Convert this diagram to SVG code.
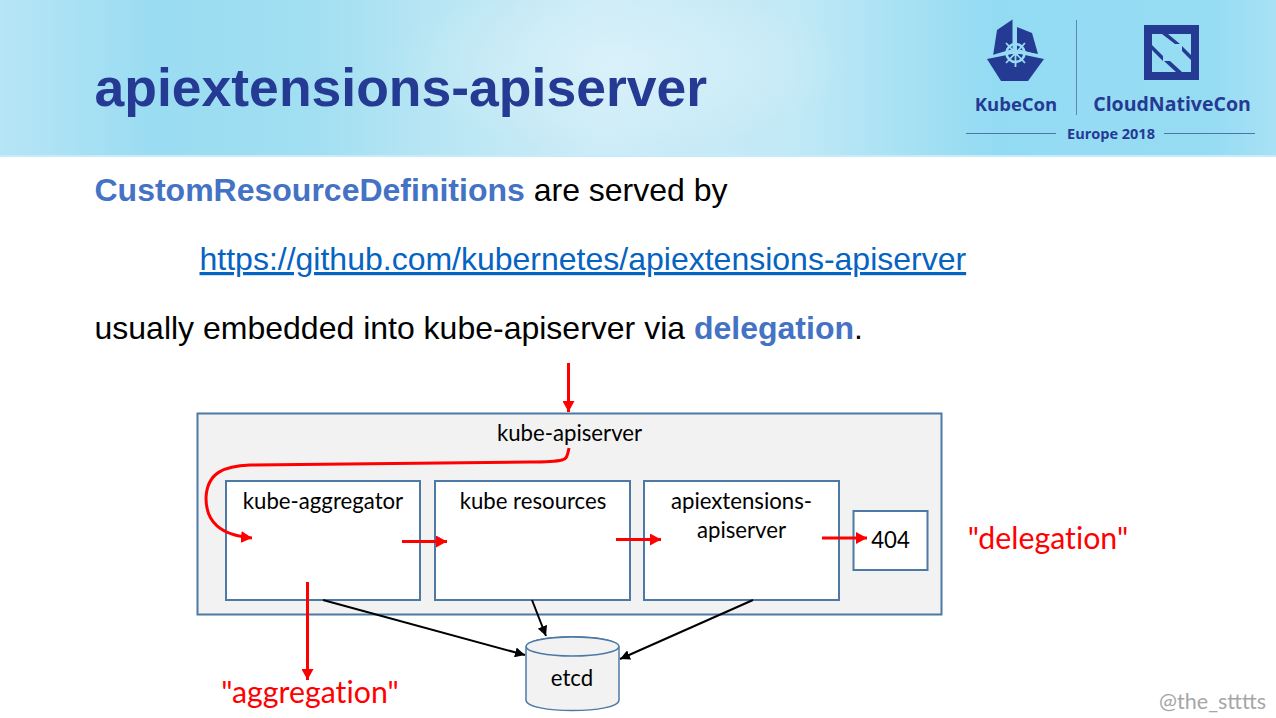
<svg xmlns="http://www.w3.org/2000/svg" width="1276" height="718" viewBox="0 0 1276 718">
<style>
.h{font-family:"Liberation Sans",Arial,sans-serif;font-size:32px;fill:#000}
.c{font-family:Lato,Carlito,sans-serif;font-size:22.200px;fill:#000;text-anchor:middle;font-variant-ligatures:none}
.r{font-family:Lato,Carlito,sans-serif;fill:#f00;text-anchor:middle;font-variant-ligatures:none}
.box{fill:#fff;stroke:#4d79a5;stroke-width:2}
.red{fill:none;stroke:#f00;stroke-width:3}
.blk{fill:none;stroke:#000;stroke-width:2}
.logo{font-family:"Open Sans",sans-serif;font-weight:700;fill:#243a93;text-anchor:middle}
.bl{fill:#4472c4;font-weight:700}
.dk{fill:#243a93}
</style>
<defs>
<linearGradient id="bg" x1="0" y1="0" x2="1" y2="0">
<stop offset="0" stop-color="#b6e5f5"/><stop offset=".04" stop-color="#aee2f4"/><stop offset=".12" stop-color="#9adcf2"/><stop offset=".25" stop-color="#a2dff2"/><stop offset=".33" stop-color="#b6e5f3"/><stop offset=".47" stop-color="#cdecf7"/><stop offset=".62" stop-color="#c2e9f6"/><stop offset=".72" stop-color="#a4e0f3"/><stop offset=".78" stop-color="#93dbf3"/><stop offset=".95" stop-color="#96dcf3"/><stop offset="1" stop-color="#a8e1f5"/>
</linearGradient>
<radialGradient id="glow" cx=".5" cy=".5" r=".5"><stop offset="0" stop-color="#e2f4fb" stop-opacity=".6"/><stop offset="1" stop-color="#e2f4fb" stop-opacity="0"/></radialGradient>
<marker id="ar" markerUnits="userSpaceOnUse" markerWidth="13" markerHeight="12" refX="11" refY="6" orient="auto"><path d="M0 0L11 6L0 12Z" fill="#f00"/></marker>
<marker id="ak" markerUnits="userSpaceOnUse" markerWidth="11" markerHeight="10" refX="10" refY="5" orient="auto"><path d="M0 0L10 5L0 10Z" fill="#000"/></marker>
</defs>
<rect width="1276" height="718" fill="#fff"/>
<g id="banner">
<rect width="1276" height="157" fill="url(#bg)"/>
<ellipse cx="620" cy="65" rx="230" ry="85" fill="url(#glow)"/>
<rect x="0" y="155" width="1276" height="2" fill="#c4ecf9"/>
</g>
<text x="94.500" y="106" font-family="Liberation Sans,Arial,sans-serif" font-weight="700" font-size="53.500" fill="#243a93">apiextensions-apiserver</text>

<g id="logos">
<path class="dk" d="M1012.500 19.500V50L993 56L997 30Z"/>
<path class="dk" d="M1017 27L1032 33L1038 54L1017 50Z"/>
<path class="dk" d="M1012 54L1020 54L1044 59L1028 81H1001L987 59Z"/>
<g fill="none" stroke="#9adcf3">
<circle cx="1015.500" cy="53" r="9" stroke-width="2.600"/>
<path d="M1015.500 39V67M1002 53H1029M1006 43L1025 63M1025 43L1006 63" stroke-width="1.800"/>
<path d="M1012 50L992 56M1019 50L1039 56" stroke-width="1.500"/>
</g>
<circle cx="1015.500" cy="53" r="2.500" fill="#9adcf3"/>
<path d="M1076.500 20V115" stroke="#5f86b8" stroke-width="1"/>
<path class="dk" fill-rule="evenodd" d="M1144 25H1199V80H1144ZM1152 34V72H1191V34Z"/>
<path class="dk" d="M1162 34H1168L1180 44H1175ZM1182 46L1191 55V60L1182 51ZM1152 45L1163 56V61L1152 50ZM1164 61H1170L1182 72H1176Z"/>
<text class="logo" x="1016" y="111" font-size="18.500">KubeCon</text>
<text class="logo" x="1172" y="111" font-size="19.500">CloudNativeCon</text>
<text class="logo" x="1111" y="139" font-size="14.500">Europe 2018</text>
<path d="M966 133.500H1056M1164 133.500H1255" stroke="#4e74b0" stroke-width="1"/>
</g>

<text class="h" x="94.500" y="201"><tspan class="bl">CustomResourceDefinitions</tspan> are served by</text>
<text class="h" x="199.500" y="270" style="fill:#0563c1" text-decoration="underline">https://github.com/kubernetes/apiextensions-apiserver</text>
<text class="h" x="94.500" y="339">usually embedded into kube-apiserver via <tspan class="bl">delegation</tspan>.</text>

<g id="kube-apiserver">
<rect x="197.500" y="413.500" width="744" height="201" fill="#f2f2f2" stroke="#4d79a5" stroke-width="2"/>
<text class="c" x="569.500" y="441">kube-apiserver</text>
</g>
<g id="kube-aggregator"><rect class="box" x="226" y="481" width="194" height="119"/><text class="c" x="323" y="509">kube-aggregator</text></g>
<g id="kube-resources"><rect class="box" x="435" y="481" width="195" height="119"/><text class="c" x="533" y="509">kube resources</text></g>
<g id="apiextensions-apiserver"><rect class="box" x="644" y="481" width="195" height="119"/><text class="c" x="741.500" y="509">apiextensions-</text><text class="c" x="741.500" y="538">apiserver</text></g>
<g id="n404"><rect class="box" x="853.500" y="511" width="74" height="59"/><text class="c" x="890.500" y="548">404</text></g>
<g id="etcd">
<path d="M526 648C526 633 619 633 619 648V700C619 714 526 714 526 700Z" fill="#f2f2f2" stroke="#4d79a5" stroke-width="1.500"/>
<ellipse cx="572.500" cy="646.500" rx="46.500" ry="9.500" fill="#f2f2f2" stroke="#4d79a5" stroke-width="1.500"/>
<text class="c" x="572" y="686">etcd</text>
</g>

<g id="connectors">
<path class="red" marker-end="url(#ar)" d="M568.500 363V412"/>
<path class="red" marker-end="url(#ar)" d="M569 448C567 458 566 459 562 460C556 461.500 548 462 530 462L250 465C225 466 207 472 206 498C206 522 220 535 252 538"/>
<path class="red" marker-end="url(#ar)" d="M402 541.500H447"/>
<path class="red" marker-end="url(#ar)" d="M616 539.500H661"/>
<path class="red" marker-end="url(#ar)" d="M822 538H867"/>
<path class="red" marker-end="url(#ar)" d="M307.500 582V680"/>
<path class="blk" marker-end="url(#ak)" d="M323 600L525 655"/>
<path class="blk" marker-end="url(#ak)" d="M532 600L546 636"/>
<path class="blk" marker-end="url(#ak)" d="M753 600L620 659"/>
</g>

<text class="r" x="1048" y="549" font-size="30.300">"delegation"</text>
<text class="r" x="310" y="703" font-size="30.300">"aggregation"</text>
<text x="1266" y="709" text-anchor="end" font-family="Lato,Carlito,sans-serif" font-size="21.500" fill="#a6a6a6">@the_stttts</text>
</svg>
